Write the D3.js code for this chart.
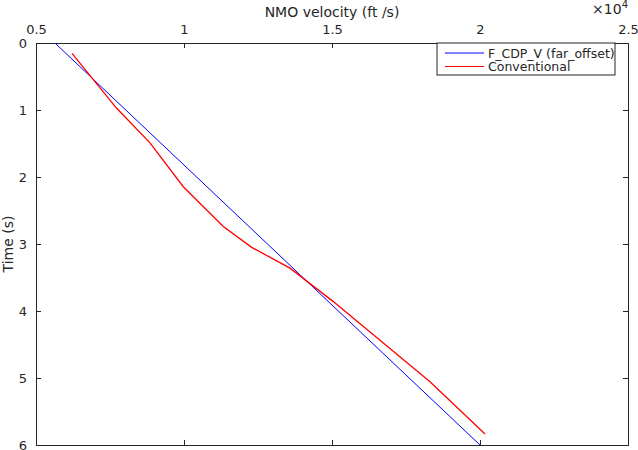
<!DOCTYPE html>
<html lang="en">
<head>
    <meta charset="utf-8">
    <title>NMO velocity vs time</title>
    <script src="https://d3js.org/d3.v7.min.js"></script>
    <style>
        body { margin: 0; background: #fff; }
        text { font-family: "DejaVu Sans", sans-serif; fill: #262626; }
    </style>
</head>
<body>
    <script>
        // data, velocity in ft/s, time in s
        var farVel = [5640, 20000];
        var farTime = [0, 6];
        var convVel = [6216, 7726, 8851, 9976, 11328, 12287, 13581, 15044, 18311, 20169];
        var convTime = [0.154, 0.975, 1.49, 2.145, 2.74, 3.05, 3.36, 3.86, 5.055, 5.836];
        var xTicks = [5000, 10000, 15000, 20000, 25000];
        var xTickLabels = ["0.5", "1", "1.5", "2", "2.5"];
        var yTicks = [0, 1, 2, 3, 4, 5, 6];
        var seriesNames = ["F_CDP_V (far_offset)", "Conventional"];
        var seriesColors = ["#0000ff", "#ff0000"];

        var w = 638, h = 450;
        // plot box edges (note: "top" is a reserved window global, so use pl/pr/pt/pb)
        var pl = 36, pr = 628, pt = 43, pb = 445;

        var svg = d3.select("body").append("svg").attr("width", w).attr("height", h);

        var x = d3.scaleLinear().domain([5000, 25000]).range([pl, pr]);
        var y = d3.scaleLinear().domain([0, 6]).range([pt, pb]);

        var axisColor = "#262626";

        // top axis with labels
        var gTop = svg.append("g").attr("transform", "translate(0," + pt + ")")
            .call(d3.axisTop(x).tickValues(xTicks).tickSize(-5).tickPadding(9)
                .tickFormat(function (d, i) { return xTickLabels[i]; }));
        // bottom axis, ticks only
        var gBot = svg.append("g").attr("transform", "translate(0," + pb + ")")
            .call(d3.axisBottom(x).tickValues(xTicks).tickSize(-5).tickFormat(""));
        // left axis with labels
        var gLeft = svg.append("g").attr("transform", "translate(" + pl + ",0)")
            .call(d3.axisLeft(y).tickValues(yTicks).tickSize(-5).tickPadding(9).tickFormat(d3.format("d")));
        // right axis, ticks only
        var gRight = svg.append("g").attr("transform", "translate(" + pr + ",0)")
            .call(d3.axisRight(y).tickValues(yTicks).tickSize(-5).tickFormat(""));

        [gTop, gBot, gLeft, gRight].forEach(function (g) {
            g.selectAll("path").attr("stroke", axisColor).attr("stroke-width", 1);
            g.selectAll("line").attr("stroke", axisColor);
            g.selectAll("text").style("font-size", "13px").attr("fill", axisColor)
                .style("font-family", "DejaVu Sans, sans-serif");
        });

        var line = d3.line().x(function (d) { return x(d[0]); }).y(function (d) { return y(d[1]); });

        var farData = farVel.map(function (v, i) { return [v, farTime[i]]; });
        var convData = convVel.map(function (v, i) { return [v, convTime[i]]; });

        svg.append("path").datum(farData).attr("d", line)
            .attr("fill", "none").attr("stroke", seriesColors[0]).attr("stroke-width", 1);
        svg.append("path").datum(convData).attr("d", line)
            .attr("fill", "none").attr("stroke", seriesColors[1]).attr("stroke-width", 1.3);

        // axis labels
        svg.append("text").attr("x", (pl + pr) / 2).attr("y", 17)
            .attr("text-anchor", "middle").style("font-size", "14px")
            .text("NMO velocity (ft /s)");
        var mult = svg.append("text").attr("x", 628).attr("y", 14)
            .attr("text-anchor", "end").style("font-size", "14px");
        mult.append("tspan").text("\u00d710");
        mult.append("tspan").attr("dy", -6).style("font-size", "10px").text("4");

        svg.append("text").attr("transform", "translate(13," + (pt + pb) / 2 + ") rotate(-90)")
            .attr("text-anchor", "middle").style("font-size", "14px").text("Time (s)");

        // legend
        var lg = svg.append("g").attr("transform", "translate(437,43)");
        lg.append("rect").attr("width", 178).attr("height", 32)
            .attr("fill", "#fff").attr("stroke", axisColor).attr("stroke-width", 1);
        seriesNames.forEach(function (name, i) {
            var ly = 10 + i * 13.5;
            lg.append("line").attr("x1", 8).attr("x2", 47).attr("y1", ly).attr("y2", ly)
                .attr("stroke", seriesColors[i]).attr("stroke-width", 1);
            lg.append("text").attr("x", 51).attr("y", ly + 4.5)
                .style("font-size", "12.5px").text(name);
        });
    </script>
</body>
</html>
